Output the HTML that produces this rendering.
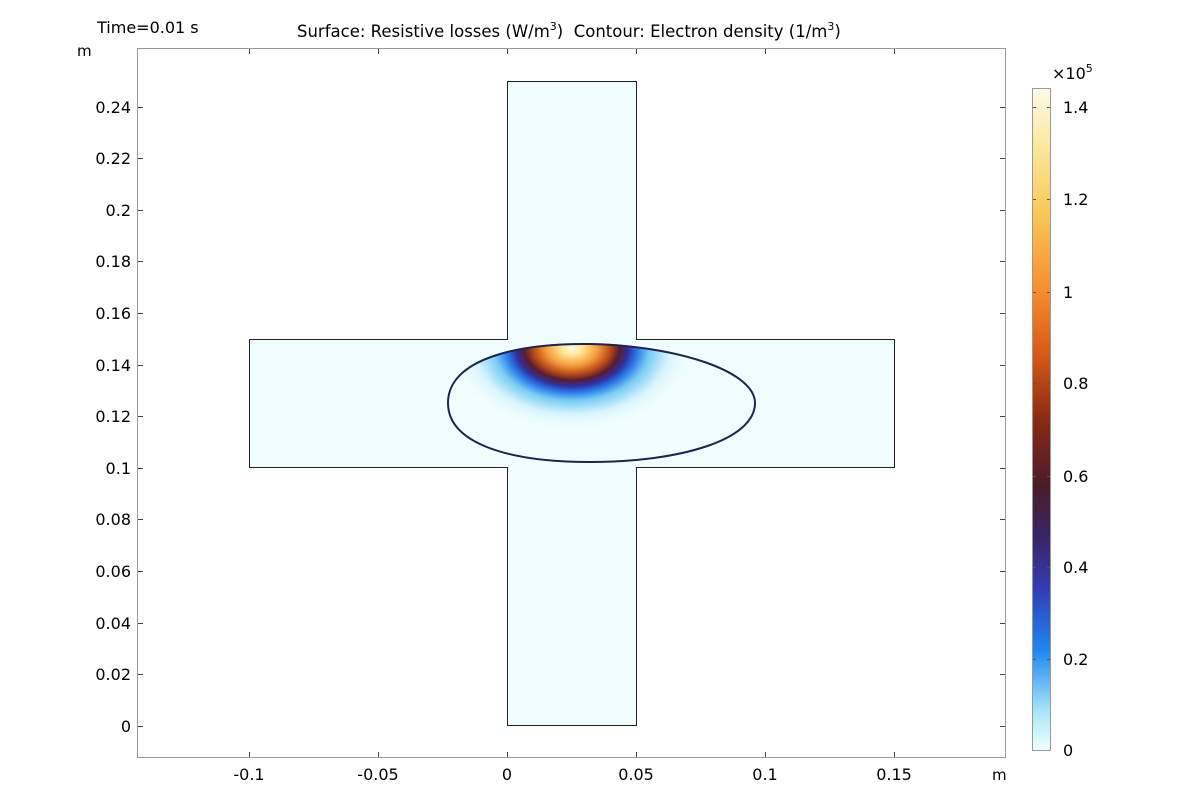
<!DOCTYPE html>
<html><head><style>
body{margin:0;background:#fff;}
svg{display:block;font-family:"DejaVu Sans","Liberation Sans",sans-serif;}
</style></head><body>
<svg width="1200" height="787" viewBox="0 0 1200 787" xmlns="http://www.w3.org/2000/svg">
<defs>
<radialGradient id="hot" cx="572" cy="348" r="1" gradientUnits="userSpaceOnUse" gradientTransform="translate(572 348) scale(125 85) translate(-572 -348)">
<stop offset="0" stop-color="#fffbea"/>
<stop offset="0.08" stop-color="#ffe89a"/>
<stop offset="0.2" stop-color="#f8a040"/>
<stop offset="0.3" stop-color="#c05018"/>
<stop offset="0.38" stop-color="#5a1c30"/>
<stop offset="0.45" stop-color="#3030a0"/>
<stop offset="0.52" stop-color="#2a78e8"/>
<stop offset="0.62" stop-color="#78ccf4"/>
<stop offset="0.78" stop-color="#d8f4fc"/>
<stop offset="1" stop-color="#f0ffff" stop-opacity="0"/>
</radialGradient>
<linearGradient id="cb" x1="0" y1="1" x2="0" y2="0">
<stop offset="0" stop-color="#f0ffff"/>
<stop offset="0.06" stop-color="#a8e4fa"/>
<stop offset="0.15" stop-color="#2088f0"/>
<stop offset="0.24" stop-color="#3040b8"/>
<stop offset="0.32" stop-color="#3a2468"/>
<stop offset="0.4" stop-color="#4a1c28"/>
<stop offset="0.5" stop-color="#8a2a14"/>
<stop offset="0.6" stop-color="#d85a18"/>
<stop offset="0.7" stop-color="#f89030"/>
<stop offset="0.82" stop-color="#f8cc5c"/>
<stop offset="0.92" stop-color="#fce9a4"/>
<stop offset="1" stop-color="#fffbe8"/>
</linearGradient>
<clipPath id="dom"><path d="M448 403 C448 360 515 342 590 343 C680 345 755 372 755 403 C755 440 680 462 590 462 C505 462 448 442 448 403Z"/></clipPath>
</defs>
<text x="97" y="33" font-size="16" fill="#000">Time=0.01 s</text>
<text x="297" y="37" font-size="16.5" fill="#000" xml:space="preserve" style="white-space:pre">Surface: Resistive losses (W/m<tspan dy="-7" font-size="11">3</tspan><tspan dy="7">)  Contour: Electron density (1/m</tspan><tspan dy="-7" font-size="11">3</tspan><tspan dy="7">)</tspan></text>
<text x="77" y="56" font-size="15">m</text>
<text x="992" y="780" font-size="15">m</text>
<rect x="137.5" y="48.5" width="868" height="709" fill="none" stroke="#999" stroke-width="1"/>
<rect x="507" y="81" width="129" height="645" fill="#f0feff"/>
<rect x="249" y="339" width="645" height="129" fill="#f0feff"/>
<g clip-path="url(#dom)"><ellipse cx="572" cy="348" rx="125" ry="85" fill="url(#hot)"/></g>
<path d="M507.5 81.5H636.5V339.5H894.5V467.5H636.5V725.5H507.5V467.5H249.5V339.5H507.5Z" fill="none" stroke="#222" stroke-width="1"/>
<path d="M448 403 C448 360 515 343 590 344 C680 346 755 372 755 403 C755 440 680 462 590 462 C505 462 448 442 448 403Z" fill="none" stroke="#1e2350" stroke-width="2"/>
<g stroke="#444" stroke-width="1">
<path d="M138 726.5h5M138 674.5h5M138 623.5h5M138 571.5h5M138 519.5h5M138 468.5h5M138 416.5h5M138 365.5h5M138 313.5h5M138 261.5h5M138 210.5h5M138 158.5h5M138 107.5h5"/>
<path d="M1005 726.5h-5M1005 674.5h-5M1005 623.5h-5M1005 571.5h-5M1005 519.5h-5M1005 468.5h-5M1005 416.5h-5M1005 365.5h-5M1005 313.5h-5M1005 261.5h-5M1005 210.5h-5M1005 158.5h-5M1005 107.5h-5"/>
<path d="M249.5 757v-5M378.5 757v-5M507.5 757v-5M636.5 757v-5M765.5 757v-5M894.5 757v-5"/>
<path d="M249.5 49v5M378.5 49v5M507.5 49v5M636.5 49v5M765.5 49v5M894.5 49v5"/>
</g>
<g font-size="16" text-anchor="end" fill="#000">
<text x="131" y="732">0</text><text x="131" y="680">0.02</text><text x="131" y="629">0.04</text><text x="131" y="577">0.06</text><text x="131" y="525">0.08</text><text x="131" y="474">0.1</text><text x="131" y="422">0.12</text><text x="131" y="371">0.14</text><text x="131" y="319">0.16</text><text x="131" y="267">0.18</text><text x="131" y="216">0.2</text><text x="131" y="164">0.22</text><text x="131" y="113">0.24</text>
</g>
<g font-size="16" text-anchor="middle" fill="#000">
<text x="249" y="780">-0.1</text><text x="378" y="780">-0.05</text><text x="507" y="780">0</text><text x="636" y="780">0.05</text><text x="765" y="780">0.1</text><text x="894" y="780">0.15</text>
</g>
<rect x="1032.5" y="88.5" width="18" height="662" fill="url(#cb)" stroke="#999"/>
<g stroke="#555"><path d="M1033 107.5h3M1047 107.5h3M1033 199.5h3M1047 199.5h3M1033 292.5h3M1047 292.5h3M1033 383.5h3M1047 383.5h3M1033 476.5h3M1047 476.5h3M1033 567.5h3M1047 567.5h3M1033 659.5h3M1047 659.5h3"/></g>
<g font-size="16" fill="#000">
<text x="1063" y="113">1.4</text><text x="1063" y="205">1.2</text><text x="1063" y="298">1</text><text x="1063" y="389">0.8</text><text x="1063" y="482">0.6</text><text x="1063" y="573">0.4</text><text x="1063" y="665">0.2</text><text x="1063" y="756">0</text>
<text x="1052" y="79">×10<tspan dy="-7" font-size="11">5</tspan></text>
</g>
</svg>
</body></html>
